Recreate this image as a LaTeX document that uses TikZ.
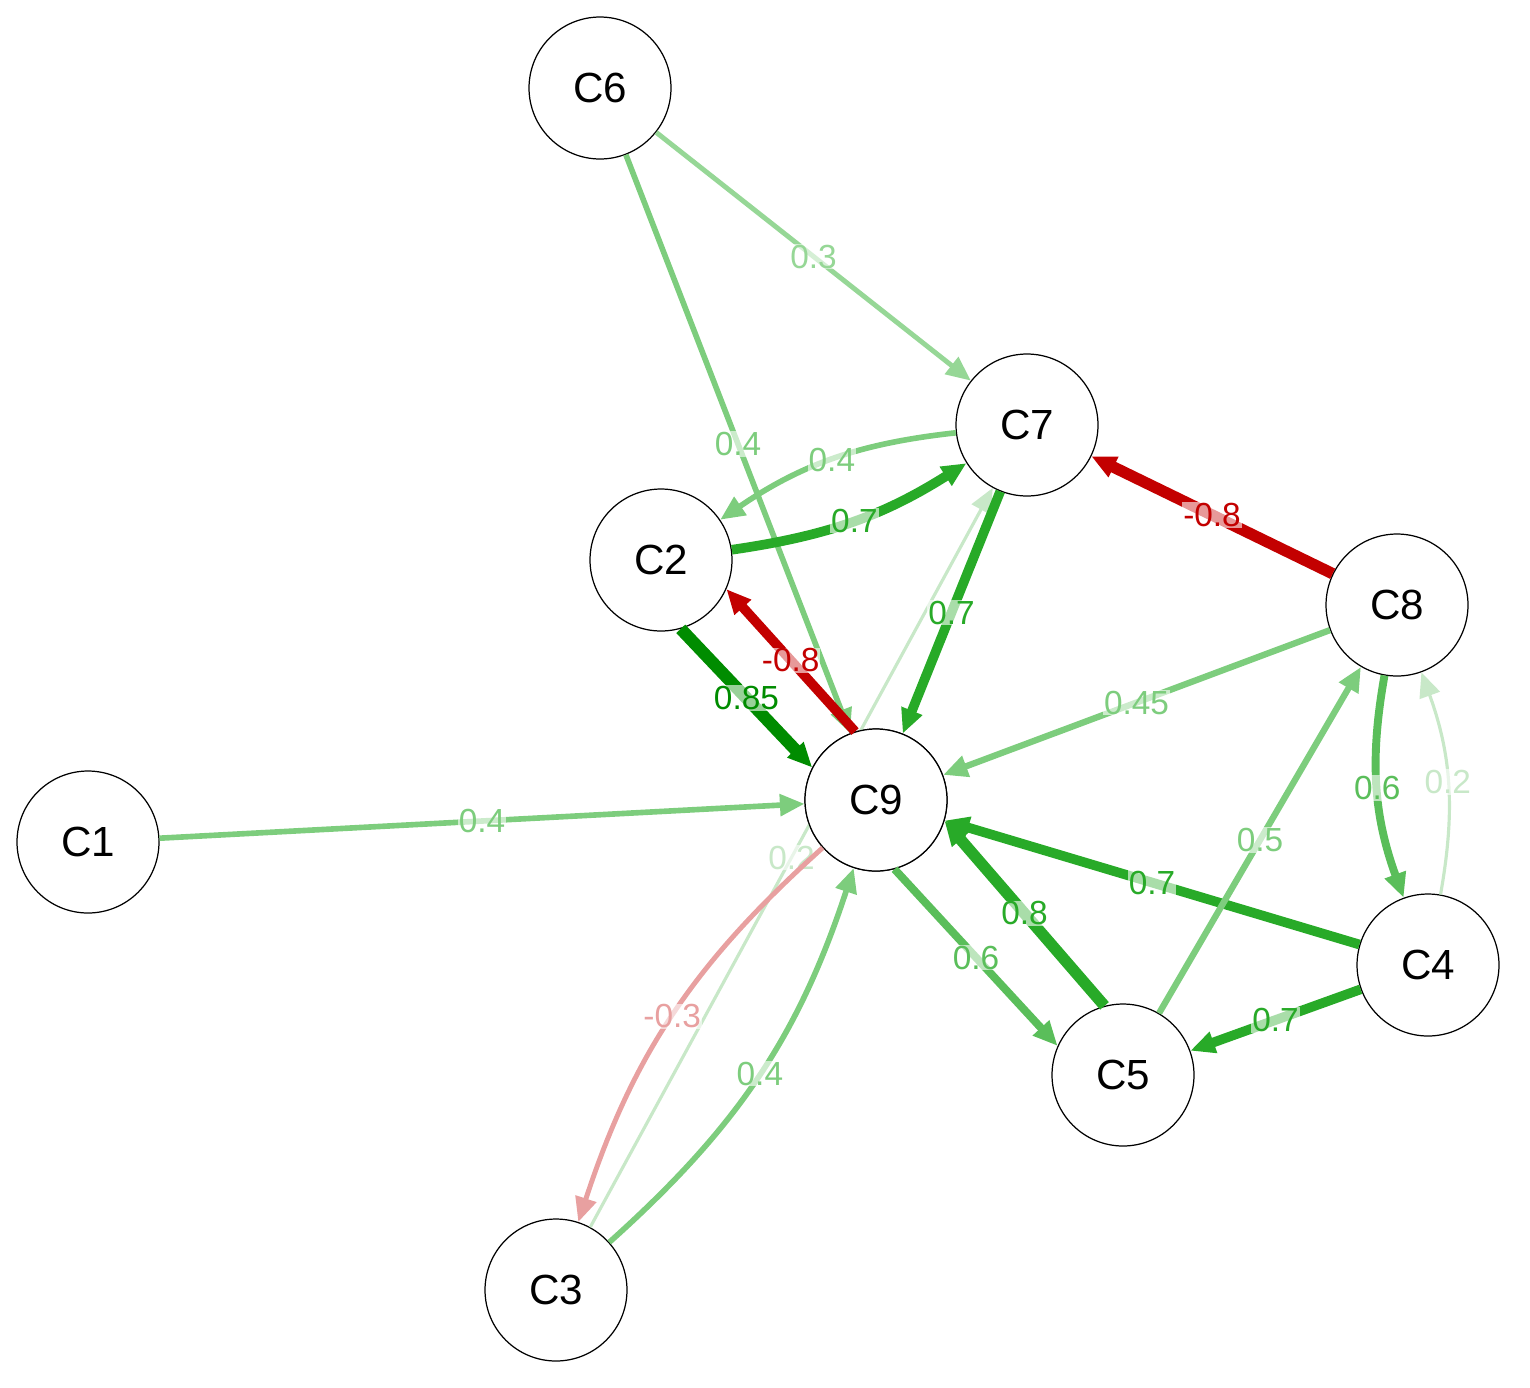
\documentclass[tikz,border=0pt]{standalone}
\usepackage{fontspec}
\setmainfont{Liberation Sans}
\usetikzlibrary{arrows.meta}
\definecolor{gA}{RGB}{0,140,0}
\definecolor{gB}{RGB}{40,170,40}
\definecolor{gC}{RGB}{90,190,90}
\definecolor{gD}{RGB}{125,205,125}
\definecolor{gE}{RGB}{150,215,150}
\definecolor{gF}{RGB}{200,232,200}
\definecolor{rA}{RGB}{195,0,0}
\definecolor{rB}{RGB}{232,160,160}
\tikzset{
 cnode/.style={circle,draw=black,line width=0.7pt,fill=white,minimum size=2.84cm,inner sep=0pt,font=\fontsize{24}{24}\selectfont},
 edg/.style={-{Triangle[length=14pt,width=12pt]}},
 lbl/.style={font=\fontsize{19}{19}\selectfont,fill=white,fill opacity=0.6,text opacity=1,inner sep=0.5pt}
}
\begin{document}
\begin{tikzpicture}[x=0.02cm,y=-0.02cm]
\useasboundingbox (0,0) rectangle (1530,1387);
\node[cnode] (C6) at (600,88) {C6};
\node[cnode] (C7) at (1027,425) {C7};
\node[cnode] (C2) at (661,560) {C2};
\node[cnode] (C8) at (1397,605) {C8};
\node[cnode] (C1) at (88,842) {C1};
\node[cnode] (C9) at (876,800) {C9};
\node[cnode] (C4) at (1428,965) {C4};
\node[cnode] (C5) at (1123,1075) {C5};
\node[cnode] (C3) at (556,1290) {C3};
\draw[edg,gF,line width=1.8pt] (C3) -- node[lbl,text=gF]{0.2} (C7);
\node[cnode] at (876,800) {C9};
\draw[edg,gE,line width=2.8pt] (C6) -- node[lbl,text=gE]{0.3} (C7);
\draw[edg,gD,line width=3.2pt] (C6) -- node[lbl,text=gD]{0.4} (C9);
\draw[edg,gD,line width=3.2pt] (C7) to[bend right=14] node[lbl,text=gD]{0.4} (C2);
\draw[edg,gB,line width=5.5pt] (C2) to[bend right=12] node[lbl,text=gB]{0.7} (C7);
\draw[edg,gB,line width=5.5pt] (C7) -- node[lbl,text=gB]{0.7} (C9);
\draw[edg,rA,line width=6.5pt] (C8) -- node[lbl,text=rA]{-0.8} (C7);
\draw[edg,rA,line width=5.5pt] (C9.107) -- node[lbl,text=rA]{-0.8} (C2.-24);
\draw[edg,gA,line width=7pt] (C2.-74) -- node[lbl,text=gA]{0.85} (C9.153);
\draw[edg,gD,line width=3.6pt] (C8) -- node[lbl,text=gD]{0.45} (C9);
\draw[edg,gD,line width=3.2pt] (C1) -- node[lbl,text=gD]{0.4} (C9);
\draw[edg,rB,line width=2.8pt] (C9) to[bend right=15] node[lbl,text=rB]{-0.3} (C3);
\draw[edg,gD,line width=3.2pt] (C3) to[bend right=15] node[lbl,text=gD]{0.4} (C9);
\draw[edg,gC,line width=4.5pt] (C9.-75) -- node[lbl,text=gC]{0.6} (C5.156);
\draw[edg,gB,line width=6.5pt] (C5.105) -- node[lbl,text=gB]{0.8} (C9.-17);
\draw[edg,gB,line width=5.5pt] (C4) -- node[lbl,text=gB]{0.7} (C9);
\draw[edg,gD,line width=3.6pt] (C5) -- node[lbl,text=gD]{0.5} (C8);
\draw[edg,gC,line width=4.5pt] (C8) to[bend right=15] node[lbl,text=gC]{0.6} (C4);
\draw[edg,gF,line width=1.8pt] (C4) to[bend right=15] node[lbl,text=gF]{0.2} (C8);
\draw[edg,gB,line width=5.5pt] (C4) -- node[lbl,text=gB]{0.7} (C5);
\end{tikzpicture}
\end{document}
